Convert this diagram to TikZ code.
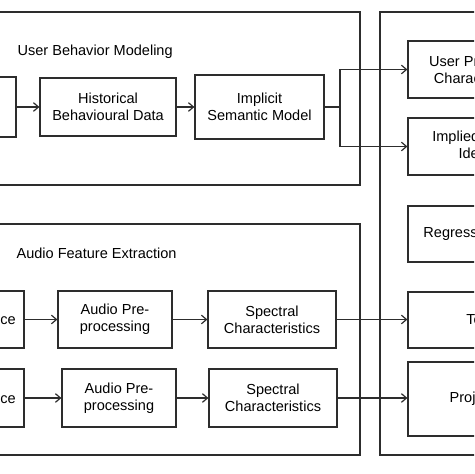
\documentclass[tikz,border=0pt]{standalone}
\usepackage{fontspec}
\setmainfont{Liberation Sans}
\usetikzlibrary{arrows.meta}

\definecolor{lncol}{RGB}{45,45,45}
\tikzset{every picture/.style={line width=0.9pt}}
\tikzset{
  blk/.style={draw=lncol, align=center, inner sep=0.75pt, font=\fontsize{10.9}{13}\selectfont},
  arr/.style={draw=lncol, -{Straight Barb[length=3.8pt,width=6.5pt]}},
  frm/.style={draw=lncol}
}

\begin{document}
\begin{tikzpicture}[x=0.75pt,y=0.75pt,yscale=-1,xscale=1]
	%set diagram to the size of the reference
	\clip (0,0) rectangle (474,474);
	\fill[white] (0,0) rectangle (474,474);

	%Shape: Rectangle [id:frame user behaviour]
	\draw [frm] (-10,12) rectangle (360,185) ;
	%Shape: Rectangle [id:frame audio]
	\draw [frm] (-10,224) rectangle (360,455) ;
	%Shape: Rectangle [id:frame output]
	\draw [frm] (380,12) rectangle (500,455) ;

	% Text Node
	\draw (16,52) node [anchor=west][inner sep=0.75pt, font=\fontsize{10.9}{13}\selectfont] (ubmlbl) {User Behavior Modeling};
	% Text Node
	\draw (15,253) node [anchor=west][inner sep=0.75pt, font=\fontsize{10.9}{13}\selectfont] (afelbl) {Audio Feature Extraction};

	%User behaviour row
	\draw (-16,107) node [blk, minimum width=64*0.75pt, minimum height=60*0.75pt] (usr) {User};
	\draw (108,107) node [blk, minimum width=136*0.75pt, minimum height=58*0.75pt] (hist) {Historical\\Behavioural Data};
	\draw (259.5,107) node [blk, minimum width=129*0.75pt, minimum height=64*0.75pt] (impl) {Implicit\\Semantic Model};

	%Output column
	\draw (482,69.5) node [blk, minimum width=148*0.75pt, minimum height=57*0.75pt] (upc) {User Preference\\Characteristics};
	\draw (482,146.5) node [blk, minimum width=148*0.75pt, minimum height=57*0.75pt] (iii) {Implied Interest\\Identity};
	\draw (482,234) node [blk, minimum width=148*0.75pt, minimum height=56*0.75pt] (reg) {Regression Model};
	\draw (482,320) node [blk, minimum width=148*0.75pt, minimum height=56*0.75pt] (tone) {Tone};
	\draw (482,399) node [blk, minimum width=148*0.75pt, minimum height=74*0.75pt] (proj) {Projection};

	%Audio rows
	\draw (-28,319.5) node [blk, minimum width=104*0.75pt, minimum height=57*0.75pt] (srca) {Audio Source};
	\draw (115,319.5) node [blk, minimum width=114*0.75pt, minimum height=57*0.75pt] (prea) {Audio Pre-\\processing};
	\draw (272,319.5) node [blk, minimum width=128*0.75pt, minimum height=57*0.75pt] (speca) {Spectral\\Characteristics};
	\draw (-28,398) node [blk, minimum width=104*0.75pt, minimum height=58*0.75pt] (srcb) {Audio Source};
	\draw (119,398) node [blk, minimum width=114*0.75pt, minimum height=58*0.75pt] (preb) {Audio Pre-\\processing};
	\draw (273,398) node [blk, minimum width=128*0.75pt, minimum height=58*0.75pt] (specb) {Spectral\\Characteristics};

	%Connectors
	\coordinate (jn) at (340,107);
	\draw [arr] (usr.east) -- (hist.west) ;
	\draw [arr] (hist.east) -- (hist.east -| impl.west) ;
	\draw [draw=lncol] (impl.east) -- (jn) ;
	\draw [arr] (jn) |- (upc.west) ;
	\draw [arr] (jn) |- (iii.west) ;

	\draw [arr] (srca.east) -- (prea.west) ;
	\draw [arr] (prea.east) -- (speca.west) ;
	\draw [arr] (speca.east) -- (speca.east -| tone.west) ;
	\draw [arr] (srcb.east) -- (preb.west) ;
	\draw [arr] (preb.east) -- (specb.west) ;
	\draw [arr] (specb.east) -- (specb.east -| proj.west) ;

\end{tikzpicture}
\end{document}
